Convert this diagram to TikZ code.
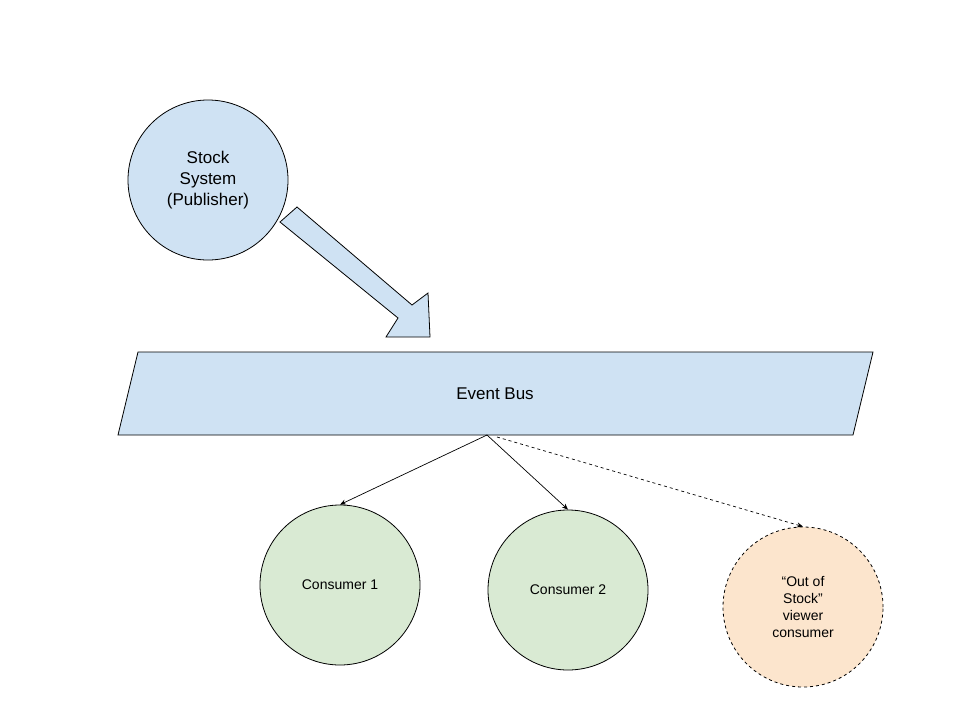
\documentclass[tikz,border=0pt]{standalone}
\usepackage{fontspec}
\setmainfont{Liberation Sans}
\usetikzlibrary{arrows.meta}
\definecolor{cblue}{HTML}{CFE2F3}
\definecolor{cgreen}{HTML}{D9EAD3}
\definecolor{corange}{HTML}{FCE5CD}
\begin{document}
\begin{tikzpicture}[x=1pt,y=-1pt,
  circ/.style={circle,draw=black,line width=0.8pt,minimum size=160pt,inner sep=0pt,align=center},
  big/.style={font=\fontsize{17}{21}\selectfont},
  small/.style={font=\fontsize{14}{17}\selectfont},
  conn/.style={draw=black,line width=0.7pt,-{Stealth[length=6pt,width=5pt]}}]
\useasboundingbox (0,0) rectangle (960,720);
\node[circ,fill=cblue,big] (pub) at (208,180) {Stock\\System\\(Publisher)};
\filldraw[fill=cblue,draw=black,line width=0.8pt] (138,352) -- (873,352) -- (853,435) -- (118,435) -- cycle;
\node[big] (bus) at (495,394) {Event Bus};
\filldraw[fill=cblue,draw=black,line width=0.8pt] (280,222) -- (297,207) -- (412,305) -- (428,293) -- (430,337) -- (386,337) -- (398,318) -- cycle;
\coordinate (b1) at (487,435);
\coordinate (b2) at (497,437);
\node[circ,fill=cgreen,small] (c1) at (340,585) {Consumer 1};
\node[circ,fill=cgreen,small] (c2) at (568,590) {Consumer 2};
\node[circ,fill=corange,small,dashed] (c3) at (803,607) {“Out of\\Stock”\\viewer\\consumer};
\draw[conn] (b1) -- (c1.north);
\draw[conn] (b1) -- (c2.north);
\draw[conn,dashed] (b2) -- (c3.north);
\end{tikzpicture}
\end{document}
